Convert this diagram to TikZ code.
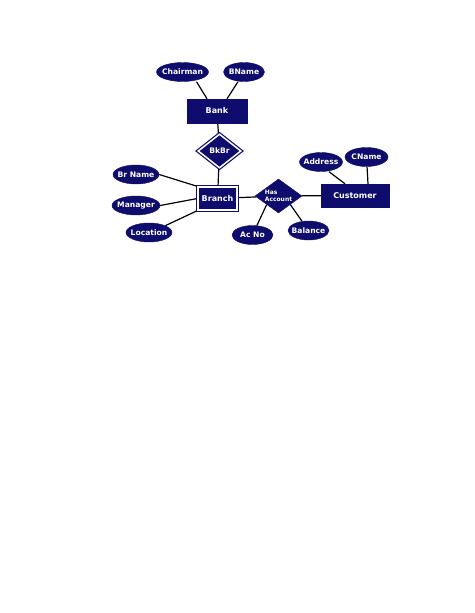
\documentclass[tikz,border=0pt]{standalone}
\usepackage{fontspec}
\setmainfont{DejaVu Sans}
\usetikzlibrary{shapes.geometric,backgrounds}
\definecolor{navy}{RGB}{14,12,108}
\newcommand{\zb}[1]{\makebox[0pt]{#1}}
\begin{document}
\begin{tikzpicture}[x=1pt,y=-1pt,
  attr/.style={ellipse,fill=navy,draw=navy,inner sep=0pt,minimum width=#1,minimum height=19,
    text=white,font=\bfseries\fontsize{7.6}{8}\selectfont},
  attr/.default=44,
  ent/.style={rectangle,fill=navy,draw=navy,inner sep=0pt,text=white,font=\bfseries\fontsize{8}{9}\selectfont},
  rel/.style={diamond,fill=navy,draw=navy,inner sep=0pt,text=white,font=\bfseries\fontsize{7.6}{8}\selectfont},
  dbl/.style={double=white,draw=navy,double distance=1.5pt,line width=1.2pt},
  conn/.style={line width=1.2pt,black}]
\useasboundingbox (0,0) rectangle (474,613);
% entities
\node[ent,minimum width=60,minimum height=24] (bank) at (217,111) {Bank};
\node[ent,minimum width=68,minimum height=23] (cust) at (355,195.5) {Customer};
\node[ent,dbl,minimum width=39,minimum height=23] (branch) at (217.5,198.5) {\zb{Branch}};
% relationships
\node[rel,dbl,minimum width=43,minimum height=34] (bkbr) at (219.5,151) {\zb{BkBr}};
\node[rel,minimum width=47,minimum height=34,font=\bfseries\fontsize{6}{7}\selectfont] (has) at (278.5,196) {\zb{\shortstack[l]{Has\\Account}}};
% attributes
\node[attr=52] (chair) at (182.5,72) {\zb{Chairman}};
\node[attr=41] (bname) at (244,72) {\zb{BName}};
\node[attr=46] (brname) at (136,174.5) {\zb{Br Name}};
\node[attr=48] (manager) at (136,205.5) {\zb{Manager}};
\node[attr=46] (location) at (149,232.5) {\zb{Location}};
\node[attr=43] (address) at (321,162) {\zb{Address}};
\node[attr=43] (cname) at (366.5,157) {\zb{CName}};
\node[attr=41] (acno) at (252.5,235) {\zb{Ac No}};
\node[attr=41] (balance) at (308.5,230.5) {\zb{Balance}};
% connectors
\begin{scope}[on background layer]
\draw[conn] ([xshift=14]chair.south) -- ([xshift=-10]bank.north);
\draw[conn] ([xshift=-6]bname.south) -- ([xshift=10]bank.north);
\draw[conn] (bank) -- (bkbr);
\draw[conn] (bkbr) -- (branch);
\draw[conn] (brname.east) -- (branch.north west);
\draw[conn] (manager.east) -- (branch.west);
\draw[conn] (location.north east) -- (branch.south west);
\draw[conn] (branch) -- (has);
\draw[conn] (has) -- (cust);
\draw[conn] (has.south west) -- (acno);
\draw[conn] (has.south east) -- (balance);
\draw[conn] ([xshift=8]address.south) -- ([xshift=-10]cust.north);
\draw[conn] (cname) -- ([xshift=13]cust.north);
\end{scope}
\end{tikzpicture}
\end{document}
